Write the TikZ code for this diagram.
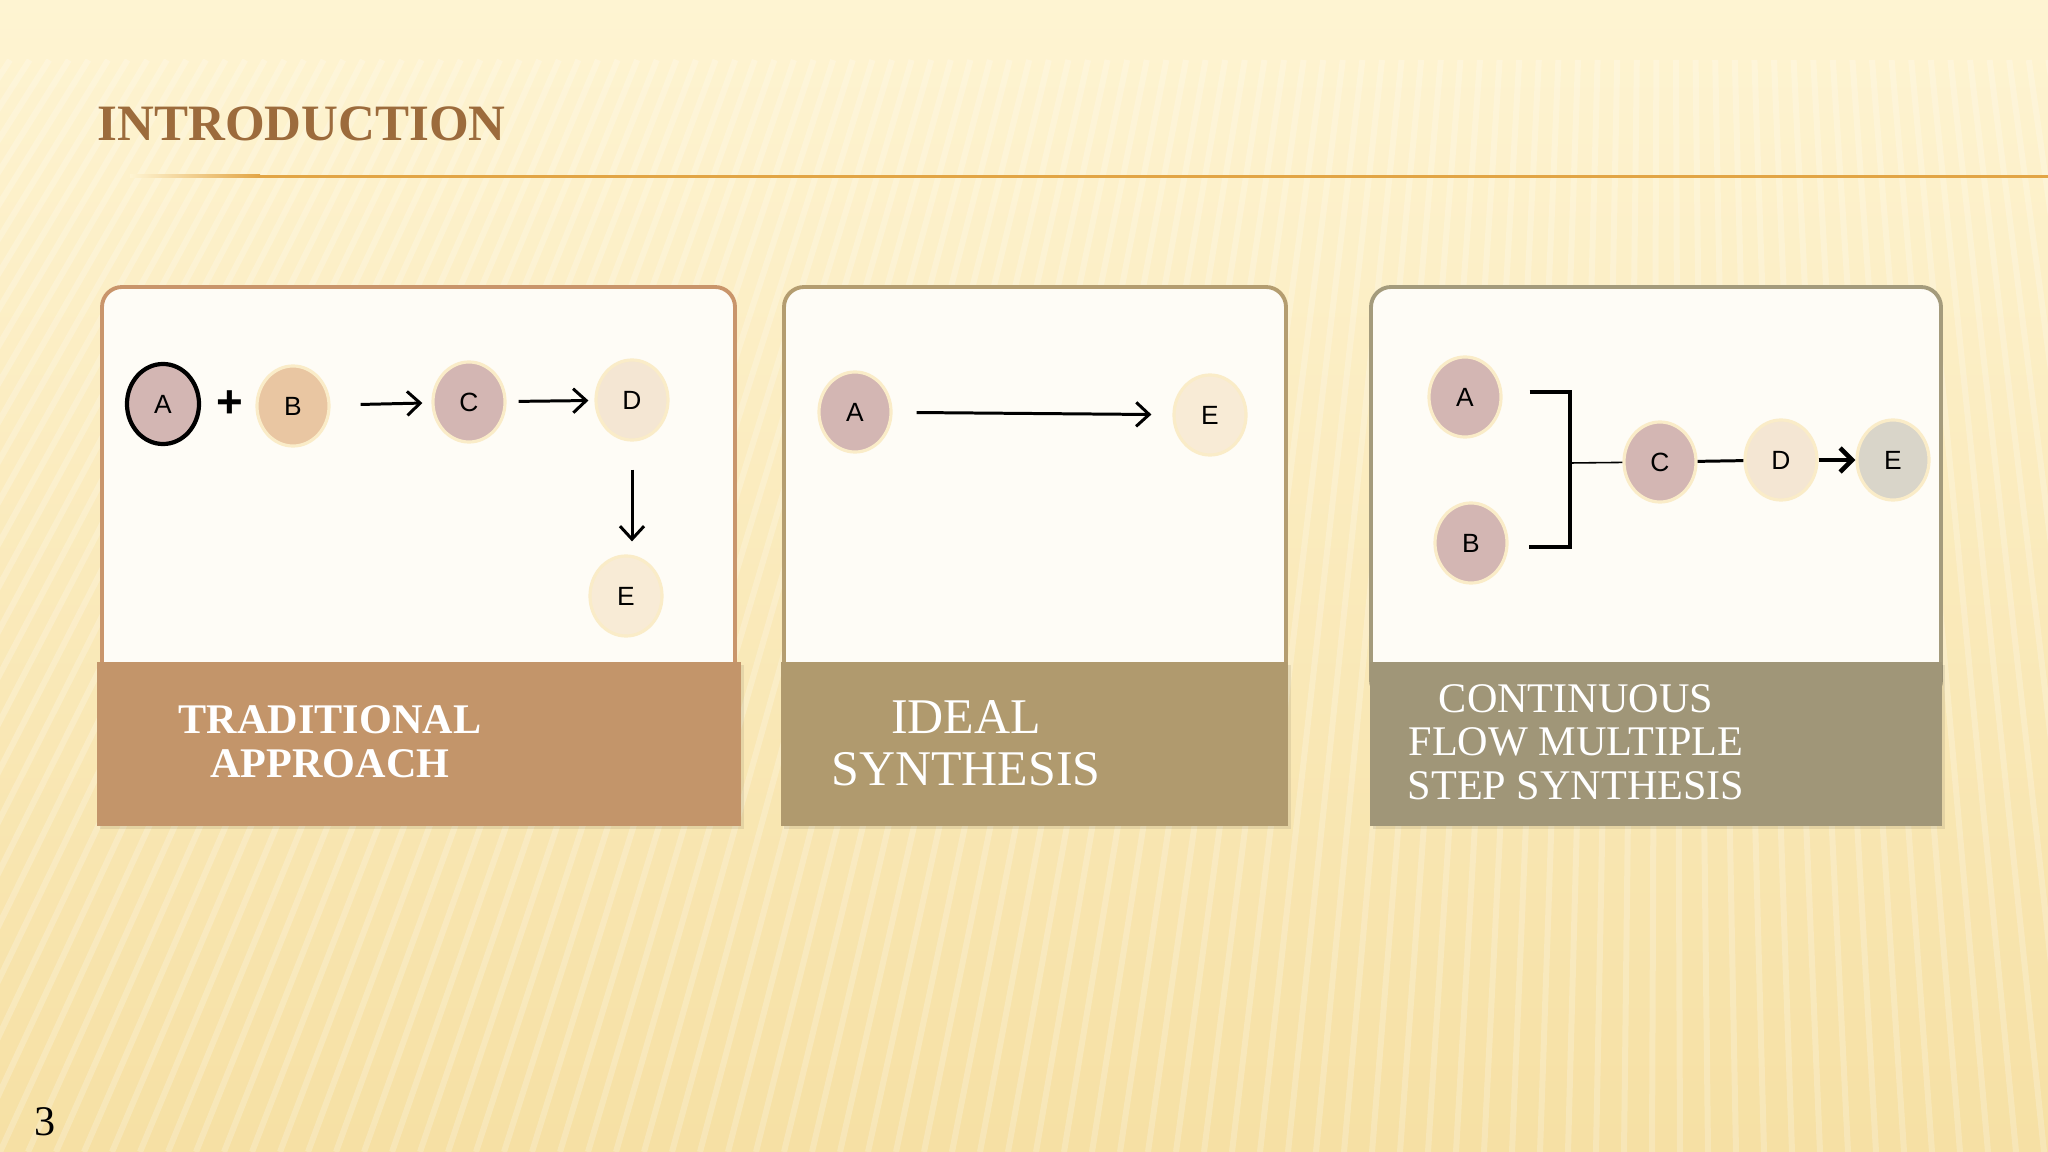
\documentclass[tikz,border=0pt]{standalone}
\usepackage{fontspec}
\setmainfont{Liberation Serif}
\newfontfamily\molfont{Liberation Sans}
\usetikzlibrary{shapes.geometric,arrows.meta}

\definecolor{bgtop}{HTML}{FEF4D2}
\definecolor{bgbot}{HTML}{F6E0A4}
\definecolor{titlebrown}{HTML}{9C6B3C}
\definecolor{ruleorange}{HTML}{E2A545}
\definecolor{cardwhite}{HTML}{FEFCF6}
\definecolor{tradedge}{HTML}{C9956B}
\definecolor{idealedge}{HTML}{B49D70}
\definecolor{flowedge}{HTML}{A49B7C}
\definecolor{tradband}{HTML}{C3956A}
\definecolor{idealband}{HTML}{B09A6E}
\definecolor{flowband}{HTML}{A09678}
\definecolor{mauve}{HTML}{D3B6B3}
\definecolor{peach}{HTML}{E9C6A2}
\definecolor{cream}{HTML}{F4E6D3}
\definecolor{ivory}{HTML}{F8EBD6}
\definecolor{sage}{HTML}{D9D5C9}
\definecolor{ring}{HTML}{FAECC8}

\tikzset{
  molecule/.style={ellipse, draw=ring, line width=0.9pt, minimum width=0.72cm,
    minimum height=0.8cm, inner sep=0pt, font=\molfont\fontsize{7.5}{8}\selectfont},
  card/.style={line width=1.1pt, fill=cardwhite, rounded corners=0.2cm},
  band/.style={text=white, align=center},
  flow/.style={line width=0.85pt, -{Straight Barb[length=0.13cm,width=0.24cm]}},
  boldflow/.style={line width=1.3pt, -{Straight Barb[length=0.12cm,width=0.24cm,line width=1.3pt]}},
  bracket/.style={line width=0.95pt, line join=miter}
}

\begin{document}
\begin{tikzpicture}[x=0.01cm, y=-0.01cm]
\useasboundingbox (0,0) rectangle (2048,1152);

% background
\shade[top color=bgtop, bottom color=bgbot] (0,0) rectangle (2048,1152);
\begin{scope}
\clip (0,60) rectangle (2048,1152);
\foreach \i in {-700,-672,...,2600}
  \draw[white, opacity=0.22, line width=0.06cm] (\i,1152) -- ({0.7*\i+500},60);
\end{scope}

% title
\node[anchor=base west, inner sep=0pt, text=titlebrown, font=\fontsize{14.5}{16}\selectfont\bfseries]
  (title) at (97,141) {INTRODUCTION};
\shade[left color=bgtop, right color=ruleorange] (130,175) rectangle (260,178);
\fill[ruleorange] (259,175) rectangle (2048,178);

% cards
\draw[card, draw=tradedge] (102,287) rectangle (735,700);
\draw[card, draw=idealedge] (784,287) rectangle (1286,700);
\draw[card, draw=flowedge] (1371,287) rectangle (1941,700);

% bands
\fill[black, opacity=0.08] (100,665) rectangle (744,829);
\fill[black, opacity=0.08] (784,665) rectangle (1291,829);
\fill[black, opacity=0.08] (1373,665) rectangle (1945,829);
\fill[tradband] (97,662) rectangle (741,826);
\fill[idealband] (781,662) rectangle (1288,826);
\fill[flowband] (1370,662) rectangle (1942,826);

\node[band, font=\fontsize{12}{12.5}\selectfont\bfseries] (tradlabel) at (330,742)
  {TRADITIONAL\\APPROACH};
\node[band, font=\fontsize{14.2}{14.8}\selectfont] (ideallabel) at (966,743)
  {IDEAL\\SYNTHESIS};
\node[band, font=\fontsize{12}{12.3}\selectfont] (flowlabel) at (1576,742)
  {CONTINUOUS\\FLOW MULTIPLE\\STEP SYNTHESIS};

% traditional approach
\node[molecule, fill=mauve, draw=black, line width=1.2pt] (tA) at (163,404) {A};
\node[font=\molfont\fontsize{13}{14}\selectfont\bfseries] (tplus) at (230,404) {+};
\node[molecule, fill=peach] (tB) at (293,406) {B};
\node[molecule, fill=mauve] (tC) at (469,402) {C};
\node[molecule, fill=cream] (tD) at (632,400) {D};
\node[molecule, fill=ivory] (tE) at (626,596) {E};
\draw[flow, shorten <=0.30cm, shorten >=0.09cm] (tB) -- (tC);
\draw[flow, shorten <=0.12cm, shorten >=0.06cm] (tC) -- (tD);
\draw[flow, shorten <=0.28cm, shorten >=0.13cm] (tD.south) -- (tD.south |- tE.north);

% ideal synthesis
\node[molecule, fill=mauve] (iA) at (855,412) {A};
\node[molecule, fill=ivory] (iE) at (1210,415) {E};
\draw[flow, shorten <=0.24cm, shorten >=0.21cm] (iA) -- (iE);

% continuous flow
\node[molecule, fill=mauve] (fA) at (1465,397) {A};
\node[molecule, fill=mauve] (fB) at (1471,543) {B};
\node[molecule, fill=mauve] (fC) at (1660,462) {C};
\node[molecule, fill=cream] (fD) at (1781,460) {D};
\node[molecule, fill=sage] (fE) at (1893,460) {E};
\coordinate (fjoin) at (1570,463);
\draw[bracket] ([xshift=0.27cm, yshift=0.05cm]fA.east) -| (fjoin)
  |- ([xshift=0.2cm, yshift=-0.04cm]fB.east);
\draw[line width=0.45pt] (fjoin) -- (fC);
\draw[line width=0.85pt] (fC) -- (fD);
\draw[boldflow] (fD) -- (fE);

% page number
\node[anchor=base west, inner sep=0pt, font=\fontsize{12}{13}\selectfont] (pagenum) at (34,1135) {3};
\end{tikzpicture}
\end{document}
